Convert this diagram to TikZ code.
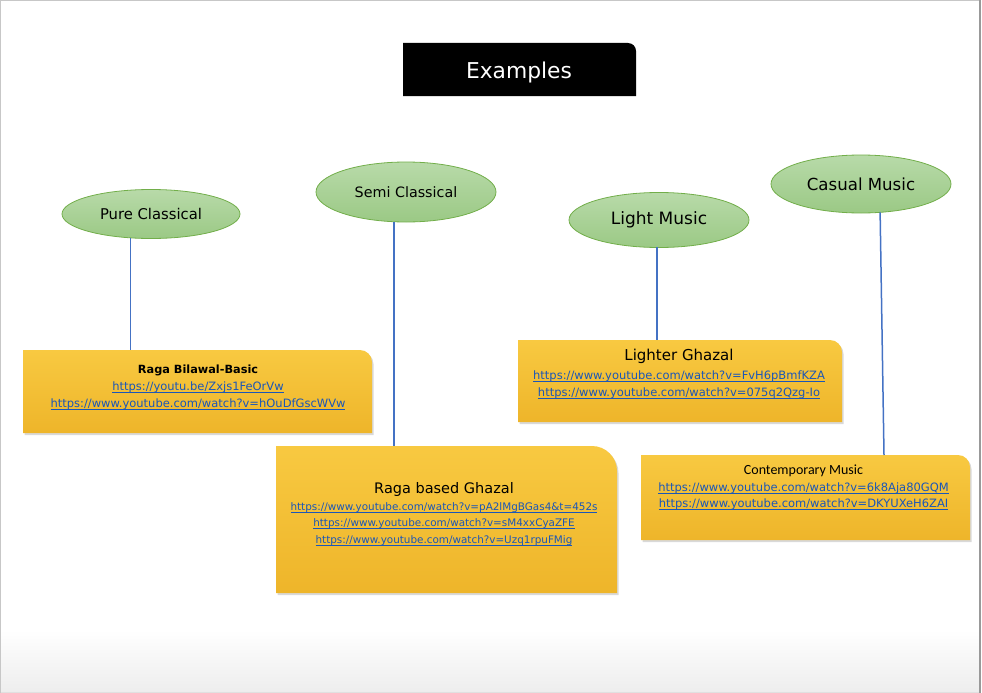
\documentclass[tikz,border=0pt]{standalone}
\usepackage{fontspec}
\setmainfont{DejaVu Sans}
\newfontfamily\calibfont{Carlito}
\usetikzlibrary{shapes.geometric,shadows,calc}

\definecolor{catTop}{HTML}{B8DAA9}
\definecolor{catBot}{HTML}{9BC985}
\definecolor{catLine}{HTML}{72AE4A}
\definecolor{boxTop}{HTML}{F8C941}
\definecolor{boxBot}{HTML}{EEB52A}
\definecolor{urlblue}{HTML}{1A56B8}
\definecolor{linkline}{HTML}{4472C4}

% hyperlink look: blue text with a firm underline just under the baseline
\newcommand\weblink[1]{\textcolor{urlblue}{\setbox0\hbox{#1}\rlap{\rule[-2.3pt]{\wd0}{1.1pt}}\box0}}

\begin{document}
\begin{tikzpicture}[x=1pt,y=1pt,
  catnode/.style={ellipse, draw=catLine, line width=0.8pt, top color=catTop,
    bottom color=catBot, inner sep=0pt, outer sep=0pt},
  boxarea/.style={rectangle, inner sep=0pt, outer sep=0pt},
  tabfill/.style={top color=boxTop, bottom color=boxBot,
    drop shadow={shadow xshift=1.5pt, shadow yshift=-2pt, opacity=0.3}},
  linkline/.style={draw=linkline, line width=1.5pt},
  txt/.style={inner sep=0pt, anchor=center},
  url/.style={txt, font=\fontsize{11.5}{14}\selectfont}
]
\useasboundingbox (0,0) rectangle (982,-693);

% page frame with a faint shade along the bottom
\shade[top color=white, bottom color=black!7] (1,-630) rectangle (979,-692);
\draw[black!22, line width=1pt] (0.5,-693) -- (0.5,-0.5) -- (980,-0.5);
\draw[black!40, line width=2pt] (980,0) -- (980,-693);
\draw[black!12, line width=1pt] (1,-692) -- (979,-692);

% heading tab
\node[boxarea, minimum width=233, minimum height=53] (ttl) at (519.5,-69.5) {};
\fill[black] (ttl.south west) -- (ttl.north west) -- ([xshift=-8pt]ttl.north east)
  arc[start angle=90, end angle=0, radius=8] -- (ttl.south east) -- cycle;
\node[txt, text=white, font=\fontsize{21.8}{26}\selectfont] (ttlT) at (519,-72) {Examples};

% categories
\node[catnode, minimum width=178, minimum height=49, font=\fontsize{14.8}{17}\selectfont]
  (pure) at (151,-214) {Pure Classical};
\node[catnode, minimum width=180, minimum height=60, font=\fontsize{14.3}{17}\selectfont]
  (semi) at (406,-192) {Semi Classical};
\node[catnode, minimum width=180, minimum height=55, font=\fontsize{17}{20}\selectfont]
  (light) at (659,-220) {Light Music};
\node[catnode, minimum width=180, minimum height=58, font=\fontsize{16.6}{20}\selectfont]
  (casual) at (861,-184) {Casual Music};

% example boxes (area nodes, then their tab shapes)
\node[boxarea, minimum width=349, minimum height=83] (bil) at (197.5,-391.5) {};
\node[boxarea, minimum width=341, minimum height=147] (gz) at (446.5,-519.5) {};
\node[boxarea, minimum width=324, minimum height=82] (lg) at (680,-381) {};
\node[boxarea, minimum width=329, minimum height=85] (cm) at (805.5,-497.5) {};

\path[tabfill] (bil.south west) -- (bil.north west) -- ([xshift=-12pt]bil.north east)
  arc[start angle=90, end angle=0, radius=12] -- (bil.south east) -- cycle;
\path[tabfill] (gz.south west) -- (gz.north west) -- ([xshift=-25pt]gz.north east)
  arc[start angle=90, end angle=0, radius=25] -- (gz.south east) -- cycle;
\path[tabfill] (lg.south west) -- (lg.north west) -- ([xshift=-12pt]lg.north east)
  arc[start angle=90, end angle=0, radius=12] -- (lg.south east) -- cycle;
\path[tabfill] (cm.south west) -- (cm.north west) -- ([xshift=-12pt]cm.north east)
  arc[start angle=90, end angle=0, radius=12] -- (cm.south east) -- cycle;

% connectors
\draw[linkline] (pure.229) -- (pure.229 |- bil.north);
\draw[linkline] (semi.248) -- (semi.248 |- gz.north);
\draw[linkline] (light.266) -- (light.266 |- lg.north);
\draw[linkline] (casual.304) -- ($(cm.north)+(78.5,0)$);

% box texts
\node[txt, font=\bfseries\fontsize{11.3}{14}\selectfont] (bilT) at (198,-370.5) {Raga Bilawal-Basic};
\node[url] (bilA) at (198,-387.5) {\weblink{https://youtu.be/Zxjs1FeOrVw}};
\node[url] (bilB) at (198,-404.5) {\weblink{https://www.youtube.com/watch?v=hOuDfGscWVw}};

\node[txt, font=\fontsize{14.5}{17}\selectfont] (gzT) at (444,-489.5) {Raga based Ghazal};
\node[url, font=\fontsize{10.4}{13}\selectfont] (gzA) at (444,-507.5) {\weblink{https://www.youtube.com/watch?v=pA2lMgBGas4\&t=452s}};
\node[url, font=\fontsize{10.4}{13}\selectfont] (gzB) at (444,-523.5) {\weblink{https://www.youtube.com/watch?v=sM4xxCyaZFE}};
\node[url, font=\fontsize{10.4}{13}\selectfont] (gzC) at (444,-540.5) {\weblink{https://www.youtube.com/watch?v=Uzq1rpuFMig}};

\node[txt, font=\fontsize{15}{18}\selectfont] (lgT) at (679,-356.5) {Lighter Ghazal};
\node[url] (lgA) at (679,-376.5) {\weblink{https://www.youtube.com/watch?v=FvH6pBmfKZA}};
\node[url] (lgB) at (679,-393.5) {\weblink{https://www.youtube.com/watch?v=075q2Qzg-Io}};

\node[txt, font=\calibfont\fontsize{14}{17}\selectfont] (cmT) at (803.5,-470.5) {Contemporary Music};
\node[url] (cmA) at (803.5,-488.5) {\weblink{https://www.youtube.com/watch?v=6k8Aja80GQM}};
\node[url] (cmB) at (803.5,-504.5) {\weblink{https://www.youtube.com/watch?v=DKYUXeH6ZAI}};
\end{tikzpicture}
\end{document}
